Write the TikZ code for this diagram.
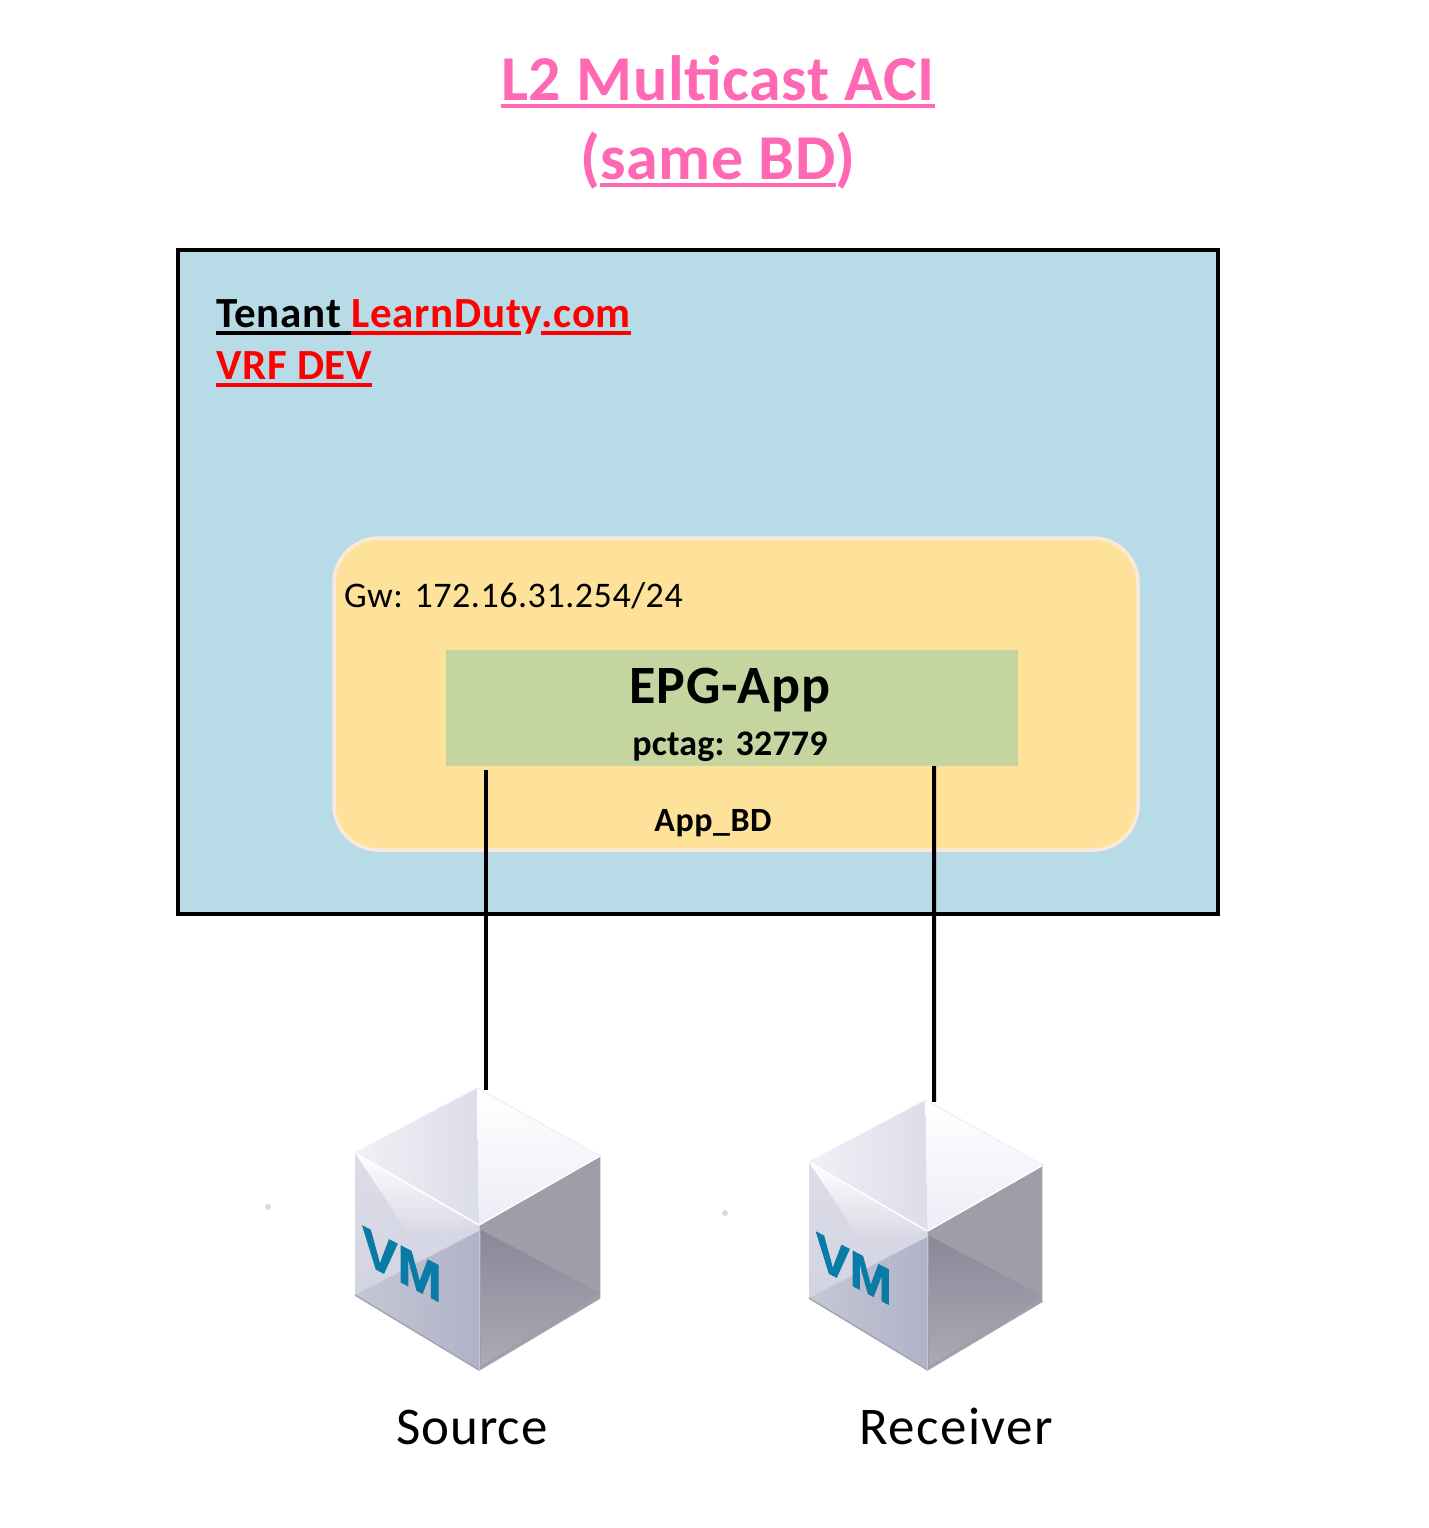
\documentclass[tikz,border=0pt]{standalone}
\usepackage{fontspec}
\setmainfont{Carlito}
\newfontfamily\vmfont[BoldFeatures={FakeBold=1.5}]{Liberation Sans}
\usetikzlibrary{calc}
\definecolor{tenantblue}{HTML}{B7DCE7}
\definecolor{bdyellow}{HTML}{FEE29A}
\definecolor{bdedge}{HTML}{F8E9DC}
\definecolor{epggreen}{HTML}{C4D59F}
\definecolor{titlepink}{HTML}{FF69B4}
\definecolor{vmblue}{HTML}{0A7AA6}
\definecolor{lidleft}{HTML}{F0F0F5}
\definecolor{lidmid}{HTML}{DCDDEA}
\definecolor{lidright}{HTML}{ECEDF6}
\definecolor{frontlight}{HTML}{DDDDEA}
\definecolor{frontpale}{HTML}{CDCEDC}
\definecolor{glarelow}{HTML}{D4D5E2}
\definecolor{floorright}{HTML}{B0B2C7}
\definecolor{floorpale}{HTML}{C6C7D5}
\definecolor{sidewall}{HTML}{9E9EA9}
\definecolor{sidedark}{HTML}{888899}
\definecolor{sidepale}{HTML}{ABABB5}
\definecolor{edgelow}{HTML}{A4A4B4}
\definecolor{edgemid}{HTML}{C8C9D6}
\definecolor{edgeside}{HTML}{DDDDE6}
\tikzset{
	plate/.style={inner sep=0pt, outer sep=0pt},
	wire/.style={line width=4pt, color=black},
	label/.style={inner sep=0pt, anchor=base west},
	caption/.style={inner sep=0pt, anchor=base}
}
\newcommand{\fsize}[2][0]{\fontsize{#2}{#2}\selectfont\addfontfeature{LetterSpace=#1}}
\newsavebox{\ulbox}
\newcommand{\ulined}[1]{\sbox{\ulbox}{#1}\rlap{\rule[-8pt]{\wd\ulbox}{4pt}}\usebox{\ulbox}}
% cube: name, top left corner, x and y scale
\def\vmcube(#1)(#2)(#3:#4){
	\begin{scope}[shift={(#2)},xscale=#3,yscale=#4]
		\shade[left color=lidleft, right color=lidmid] (122,0) -- (0,65) -- (124,137) -- cycle;
		\shade[top color=white, bottom color=lidright] (122,0) -- (245,68) -- (124,137) -- cycle;
		
		\shade[top color=frontlight, bottom color=frontpale] (0,65) -- (124,137) -- (124,282) -- (0,207) -- cycle;
		\shade[top color=white, bottom color=glarelow] (0,65) -- (124,137) -- (58,152) -- cycle;
		\shade[left color=floorpale, right color=floorright] (0,207) -- (124,143) -- (124,282) -- cycle;
		
		\fill[color=sidewall] (124,137) -- (245,68) -- (245,210) -- (124,282) -- cycle;
		\shade[top color=sidedark, middle color=sidedark, bottom color=sidepale] (126,142) -- (245,205) -- (126,278) -- cycle;
		
		\draw[line width=1.5pt, color=white] (0,65) -- (124,137) -- (245,68);
		\draw[line width=1pt, color=lidright] (0,65) -- (122,0) -- (245,68);
		\draw[line width=1.5pt, color=edgelow] (0,207) -- (124,282) -- (245,210);
		\draw[line width=1pt, color=edgemid] (124,137) -- (124,282);
		\draw[line width=1pt, color=edgeside] (245,68) -- (245,210);
		\node[inner sep=0pt, anchor=base west, transform shape, cm={1,-0.52,0,1,(0,0)}, color=vmblue] (#1vm) at (7,174) {\vmfont\bfseries\fontsize{53}{53}\selectfont VM};
		\coordinate (#1wire) at (131,2);
	\end{scope}
}

\begin{document}
\begin{tikzpicture}[x=1pt, y=-1pt]
		\useasboundingbox (0,0) rectangle (1428,1528);
		
		\node[caption, color=titlepink] (title) at (718,100) {\bfseries\fsize[1]{64}\ulined{L2 Multicast ACI}};
		\node[caption, color=titlepink] (subtitle) at (718,179) {\bfseries\fsize[1]{64}(\ulined{same BD})};
		
		\node[plate, draw=black, fill=tenantblue, line width=4pt, minimum width=1040pt, minimum height=664pt] (tenant) at (698,582) {};
		\node[plate, draw=bdedge, fill=bdyellow, line width=3.5pt, rounded corners=45pt, minimum width=804pt, minimum height=312pt] (bd) at (736,694) {};
		\node[plate, fill=epggreen, minimum width=572pt, minimum height=116pt] (epg) at (732,708) {};
		
		\node[label] (tenantname) at (216,327) {\bfseries\fsize[1.7]{43}\ulined{Tenant }\color{red}\ulined{LearnDut}y\ulined{.com}};
		\node[label, color=red] (vrf) at (216,379) {\bfseries\fsize[1.5]{43}\ulined{VRF DEV}};
		\node[label] (gw) at (344,607) {\fsize[1.5]{36}Gw: 172.16.31.254/24};
		\node[caption] (epgname) at (730,703) {\bfseries\fsize[2]{54}EPG-App};
		\node[caption] (pctag) at (730,755) {\bfseries\fsize[0.5]{36}pctag: 32779};
		\node[caption] (bdname) at (713,831) {\bfseries\fsize[1.5]{34}App\_BD};
		
		\vmcube(source)(355,1088)(1:1)
		\vmcube(receiver)(809,1100)(0.955:0.957)
		
		\coordinate (sourceport) at (486,770);
		\coordinate (receiverport) at (934,766);
		\draw[wire] (sourceport) -- (sourcewire);
		\draw[wire] (receiverport) -- (receiverwire);
		
		\node[caption] (sourcename) at (472,1444) {\fsize[1.6]{53}Source};
		\node[caption] (receivername) at (956,1444) {\fsize[2.6]{53}Receiver};
		
		\fill[color=black!15] (268,1207) circle (3);
		\fill[color=black!15] (725,1213) circle (3);
	\end{tikzpicture}
\end{document}
